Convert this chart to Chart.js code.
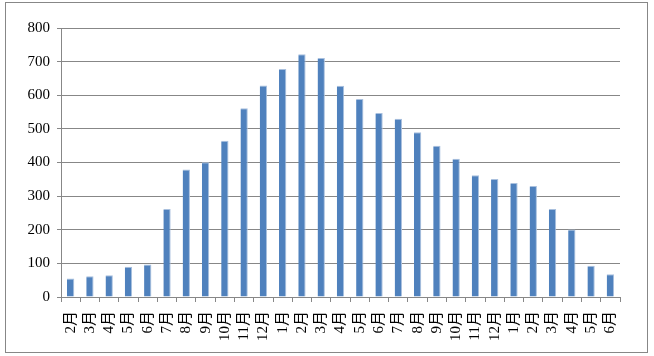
<!DOCTYPE html>
<html>
<head>
<meta charset="utf-8">
<script src="https://cdn.jsdelivr.net/npm/chart.js@4"></script>
<style>
  html, body { margin: 0; padding: 0; background: #fff; }
  #wrap { position: absolute; left: 0; top: 0; width: 654px; height: 356px; }
</style>
</head>
<body>
<div id="wrap"><canvas id="grafico"></canvas></div>
<script>
// datos
const meses = ['2月', '3月', '4月', '5月', '6月', '7月', '8月', '9月', '10月', '11月', '12月',
               '1月', '2月', '3月', '4月', '5月', '6月', '7月', '8月', '9月', '10月', '11月', '12月',
               '1月', '2月', '3月', '4月', '5月', '6月'];
const valores = [55, 62, 65, 90, 97, 262, 379, 401, 465, 561, 629,
                 678, 722, 711, 628, 589, 547, 530, 490, 450, 411, 362, 351,
                 339, 330, 262, 201, 93, 68];
const ticksY = [0, 100, 200, 300, 400, 500, 600, 700, 800];

const gris = '#878787';
const fuente = { family: "'Liberation Serif', 'Noto Sans CJK SC', serif", size: 15 };

// marco exterior
const marco = {
    id: 'marco',
    afterDraw(chart) {
        const c = chart.ctx;
        c.save();
        c.strokeStyle = gris;
        c.lineWidth = 1;
        c.strokeRect(5.5, 2.5, 642, 350);
        c.restore();
    }
};

new Chart(document.getElementById('grafico').getContext('2d'), {
    type: 'bar',
    data: {
        labels: meses,
        datasets: [{
            data: valores,
            backgroundColor: '#4f81bd',
            borderColor: '#a9c0de',
            borderWidth: { top: 1, right: 1, left: 0, bottom: 0 },
            categoryPercentage: 1,
            barPercentage: 0.38
        }]
    },
    options: {
        responsive: true,
        maintainAspectRatio: false,
        animation: false,
        layout: { padding: { left: 0, right: 34, top: 28, bottom: 0 } },
        plugins: {
            legend: { display: false },
            tooltip: { enabled: false }
        },
        scales: {
            x: {
                afterFit(scale) { scale.height = 59; },
                grid: {
                    offset: true,
                    drawOnChartArea: false,
                    drawTicks: true,
                    tickLength: 5,
                    color: gris
                },
                border: { display: true, color: gris },
                ticks: {
                    autoSkip: false,
                    maxRotation: 90,
                    minRotation: 90,
                    padding: 9,
                    color: '#000',
                    font: fuente
                }
            },
            y: {
                min: 0,
                max: 800,
                afterFit(scale) { scale.width = 61; },
                afterBuildTicks(scale) { scale.ticks = ticksY.map(v => ({ value: v })); },
                grid: {
                    color: gris,
                    tickLength: 4,
                    drawTicks: true
                },
                border: { display: true, color: gris },
                ticks: {
                    padding: 7,
                    color: '#000',
                    font: fuente
                }
            }
        }
    },
    plugins: [marco]
});
</script>
</body>
</html>
